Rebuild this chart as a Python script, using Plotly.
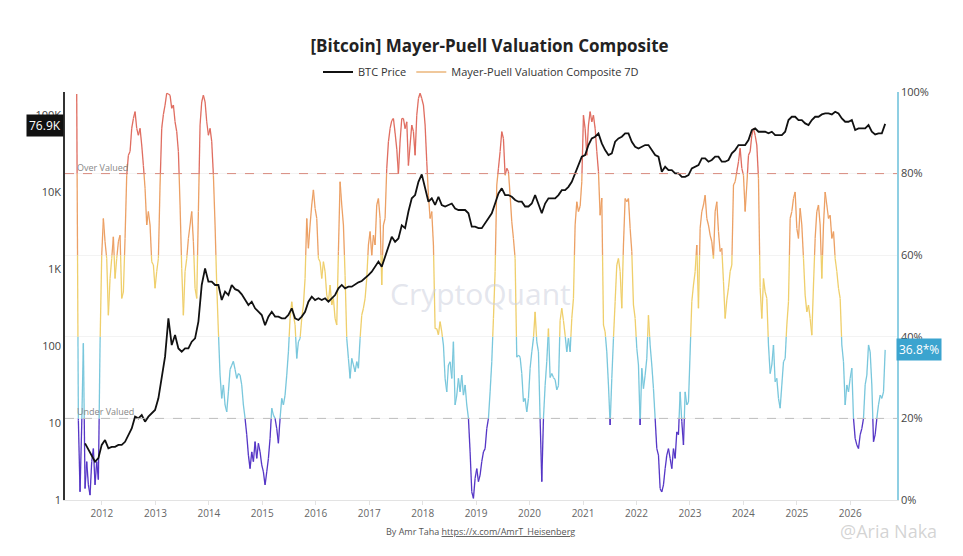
import numpy as np
import pandas as pd
import plotly.graph_objects as go

# ---------------- data ----------------
COMP_START = "2011-07-13"      # first composite sample
COMP_STEP_DAYS = 11.39         # sampling interval of composite readings
BTC_START = "2011-09-08"       # first BTC price sample
BTC_STEP_DAYS = 22.78          # sampling interval of BTC readings

composite_pct = [
    99.5, 19.5, 2.0, 18.4, 38.4, 2.8, 9.4, 3.7, 1.2, 9.4,
    12.6, 3.7, 9.4, 5.0, 38.0, 60.0, 69.0, 63.3, 59.2, 45.3,
    54.3, 59.2, 64.5, 54.3, 59.2, 63.3, 64.9, 49.4, 51.0, 64.1,
    79.6, 84.5, 85.4, 91.1, 93.5, 95.2, 91.1, 89.4, 91.1, 87.0,
    82.0, 76.4, 67.4, 70.7, 67.4, 58.4, 57.6, 51.9, 56.0, 59.2,
    77.2, 91.1, 94.5, 96.8, 99.7, 99.5, 99.2, 96.0, 96.8, 92.7,
    90.3, 85.4, 72.3, 56.8, 45.3, 56.0, 59.2, 64.1, 67.4, 70.7,
    63.3, 51.9, 49.4, 70.7, 91.9, 97.6, 99.2, 97.6, 92.7, 89.4,
    91.1, 87.8, 79.6, 67.4, 52.7, 41.2, 30.6, 24.9, 28.2, 23.3,
    21.6, 26.5, 32.0, 33.0, 34.0, 32.0, 29.8, 31.0, 30.6, 28.2,
    23.3, 20.0, 16.0, 11.0, 7.7, 11.8, 9.4, 14.3, 10.2, 13.9,
    11.8, 8.6, 6.9, 3.7, 6.9, 10.2, 15.1, 22.5, 20.8, 20.0,
    17.5, 13.9, 20.0, 24.9, 23.3, 25.7, 30.6, 36.3, 44.5, 48.6,
    45.3, 42.9, 34.7, 38.8, 39.6, 44.5, 47.8, 54.3, 69.0, 61.7,
    67.4, 72.3, 76.0, 71.5, 69.0, 59.2, 58.4, 54.3, 58.4, 56.0,
    50.2, 48.6, 52.7, 47.8, 49.4, 44.5, 42.9, 60.9, 78.0, 72.3,
    67.4, 55.1, 39.6, 34.7, 29.8, 34.7, 33.1, 31.4, 33.9, 32.3,
    39.6, 45.3, 47.0, 49.4, 54.3, 62.5, 65.8, 60.0, 64.9, 62.5,
    72.3, 73.9, 69.0, 52.7, 67.4, 69.0, 81.3, 87.8, 91.1, 93.0,
    93.5, 90.0, 86.0, 80.0, 88.0, 93.5, 93.5, 91.0, 92.7, 82.0,
    87.0, 91.9, 90.3, 84.5, 94.3, 98.4, 99.7, 98.4, 96.8, 91.9,
    82.9, 74.7, 69.0, 70.7, 62.5, 42.0, 42.0, 40.5, 43.7, 41.2,
    38.0, 29.8, 26.5, 33.1, 33.9, 29.8, 38.8, 23.3, 25.7, 29.8,
    26.5, 30.6, 25.7, 28.2, 23.3, 20.0, 11.8, 2.0, 0.4, 5.3,
    7.7, 4.5, 6.1, 9.4, 11.8, 12.6, 17.5, 20.0, 26.5, 33.9,
    44.5, 56.0, 77.2, 81.3, 85.4, 90.3, 88.6, 79.6, 81.3, 80.5,
    74.7, 68.2, 64.1, 59.2, 35.0, 35.5, 35.0, 31.0, 24.1, 24.9,
    21.6, 24.9, 32.3, 36.3, 39.6, 46.1, 38.8, 36.3, 20.0, 4.5,
    20.0, 28.0, 34.0, 42.0, 30.0, 31.0, 30.0, 29.5, 27.0, 28.0,
    44.0, 47.0, 44.0, 40.4, 36.3, 39.6, 36.3, 44.5, 49.4, 67.4,
    73.1, 70.7, 72.0, 78.0, 94.3, 91.1, 84.5, 91.9, 95.2, 92.7,
    94.3, 91.1, 85.4, 80.5, 69.8, 74.0, 42.9, 41.2, 36.3, 28.2,
    18.4, 29.8, 39.6, 48.6, 57.6, 59.2, 56.0, 47.0, 62.5, 73.9,
    73.1, 73.9, 66.6, 60.9, 47.8, 44.5, 37.2, 33.1, 18.4, 32.3,
    27.3, 30.6, 34.7, 45.3, 38.0, 33.1, 27.3, 20.0, 12.6, 11.0,
    2.8, 2.0, 3.7, 7.7, 11.0, 12.6, 10.2, 7.7, 12.6, 10.2,
    16.7, 16.0, 26.5, 19.2, 13.5, 26.5, 23.3, 24.0, 36.3, 48.6,
    52.7, 56.0, 62.5, 47.0, 66.6, 70.7, 72.3, 74.7, 69.0, 67.4,
    64.9, 63.3, 59.2, 70.7, 73.1, 65.8, 60.9, 61.7, 53.5, 44.5,
    49.0, 52.0, 56.0, 57.6, 77.2, 78.0, 80.5, 82.9, 86.2, 81.3,
    79.6, 70.7, 77.2, 84.5, 85.4, 89.4, 91.1, 89.4, 87.0, 78.8,
    52.0, 44.5, 54.3, 51.0, 49.4, 38.0, 31.0, 33.1, 38.0, 29.0,
    29.8, 24.9, 22.5, 28.2, 33.9, 34.7, 42.9, 48.6, 69.0, 70.7,
    73.9, 75.5, 66.6, 64.1, 71.5, 67.4, 59.2, 50.2, 46.1, 47.8,
    44.5, 40.4, 52.7, 64.1, 70.7, 72.3, 67.4, 54.3, 67.4, 75.5,
    72.3, 69.0, 69.8, 64.1, 65.8, 59.2, 56.0, 51.9, 49.4, 38.0,
    33.9, 23.3, 28.2, 26.5, 29.8, 32.3, 20.0, 15.1, 13.5, 12.6,
    16.0, 17.5, 20.0, 28.2, 30.6, 38.0, 36.3, 28.2, 14.3, 16.0,
    20.0, 23.3, 25.7, 24.9, 26.5, 36.8,
]

btc_price = [
    5.45, 4.5, 3.85, 3.15, 3.5, 5.2, 6.0, 4.7, 4.9, 4.9,
    5.2, 5.2, 5.7, 7.0, 8.5, 12.1, 11.5, 12.7, 10.4, 12.1,
    13.4, 14.8, 20.9, 38, 72.8, 229, 103, 139, 93, 84.5,
    93, 93, 114, 126, 207, 621, 1020, 686, 686, 621,
    621, 396, 508, 460, 621, 548, 525, 470, 408, 341,
    377, 309, 279, 253, 186, 241, 279, 241, 241, 229,
    229, 253, 309, 229, 218, 241, 279, 377, 438, 396,
    417, 396, 417, 377, 417, 460, 561, 621, 561, 590,
    590, 633, 672, 700, 757, 836, 925, 1070, 1250, 1070,
    1450, 1860, 2630, 2260, 2500, 3700, 3400, 5600, 8300, 9150,
    13600, 17000, 11200, 7500, 8300, 6800, 8700, 6800, 6500, 6800,
    7100, 6100, 5850, 5850, 5850, 5300, 3550, 3550, 3400, 3400,
    3900, 4550, 5300, 7100, 9600, 11200, 9150, 9150, 8700, 7900,
    7500, 7500, 6500, 6500, 7100, 9150, 7100, 5300, 7100, 8300,
    8300, 8300, 9150, 10600, 10600, 11700, 13600, 17500, 22400, 28800,
    30300, 40800, 49800, 52400, 57900, 42900, 35100, 30300, 31800, 45100,
    49800, 52400, 57900, 57900, 45100, 38800, 36900, 38800, 40800, 40800,
    35100, 30300, 28800, 18400, 21400, 19300, 19300, 17500, 17500, 15800,
    15800, 16600, 20300, 21400, 22400, 27400, 27400, 24800, 26100, 28800,
    28800, 24800, 24800, 26100, 31800, 35100, 40800, 40800, 40800, 47400,
    63900, 67200, 60800, 60800, 60800, 57900, 60800, 55000, 55000, 55000,
    60800, 86200, 95200, 95200, 86200, 86200, 78000, 74200, 86200, 95200,
    95200, 102000, 105000, 105000, 102000, 110700, 105000, 90600, 82000, 82000,
    86200, 63900, 67200, 67200, 67200, 74200, 60800, 56100, 57900, 57900,
    76900,
]

band_edges = [20, 40, 60, 80]
band_colors = ["#5536c6", "#79c7dc", "#efcf6b", "#eca064", "#e06d60"]
year_ticks = list(range(2012, 2027))
price_ticks = [1, 10, 100, 1000, 10000, 100000]
price_tick_text = ["1", "10", "100", "1K", "10K", "100K"]
pct_ticks = [0, 20, 40, 60, 80, 100]
over_valued, under_valued = 80, 20
last_price_label = "76.9K"
last_pct_label = "36.8*%"

# ---------------- derived sample dates ----------------
comp_dates = pd.Timestamp(COMP_START) + pd.to_timedelta(
    np.arange(len(composite_pct)) * COMP_STEP_DAYS, unit="D")
btc_dates = pd.Timestamp(BTC_START) + pd.to_timedelta(
    np.arange(len(btc_price)) * BTC_STEP_DAYS, unit="D")


def band_of(v):
    for i, e in enumerate(band_edges):
        if v < e:
            return i
    return len(band_edges)


# split the composite line where it crosses a band edge so each piece gets its colour
bands_xy = {i: ([], []) for i in range(len(band_colors))}
for k in range(len(composite_pct) - 1):
    t0, t1 = comp_dates[k], comp_dates[k + 1]
    v0, v1 = composite_pct[k], composite_pct[k + 1]
    cuts = [0.0]
    lo, hi = min(v0, v1), max(v0, v1)
    for e in band_edges:
        if lo < e < hi:
            cuts.append((e - v0) / (v1 - v0))
    cuts.append(1.0)
    cuts.sort()
    for a, b in zip(cuts[:-1], cuts[1:]):
        va, vb = v0 + a * (v1 - v0), v0 + b * (v1 - v0)
        band = band_of((va + vb) / 2)
        xs, ys = bands_xy[band]
        xs += [t0 + (t1 - t0) * a, t0 + (t1 - t0) * b, None]
        ys += [va, vb, None]

fig = go.Figure()

# legend entries
fig.add_trace(go.Scatter(x=[None], y=[None], mode="lines", name="BTC Price",
                         line=dict(color="#111111", width=2), yaxis="y2"))
fig.add_trace(go.Scatter(x=[None], y=[None], mode="lines",
                         name="Mayer-Puell Valuation Composite 7D",
                         line=dict(color="#f0c89c", width=2)))

for i, col in enumerate(band_colors):
    xs, ys = bands_xy[i]
    fig.add_trace(go.Scatter(x=xs, y=ys, mode="lines", showlegend=False,
                             line=dict(color=col, width=1.3), hoverinfo="skip",
                             connectgaps=False))

fig.add_trace(go.Scatter(x=btc_dates, y=btc_price, mode="lines", showlegend=False,
                         line=dict(color="#111111", width=1.8), yaxis="y2"))

# page has an 8px body margin: plot area spans x 65..897, y 92..500 on screen
L, T, R, B = 57, 84, 74, 64
fig.update_layout(
    width=963, height=556,
    paper_bgcolor="white", plot_bgcolor="white",
    margin=dict(l=L, r=R, t=T, b=B),
    font=dict(family="Open Sans", color="#333333"),
    title=dict(text="<b>[Bitcoin] Mayer-Puell Valuation Composite</b>",
               x=0.5, xanchor="center", y=1 - 38 / 556, yanchor="middle",
               font=dict(size=17, color="#222222")),
    legend=dict(orientation="h", x=0.5, xanchor="center", y=(500 - 72) / 408,
                yanchor="middle", font=dict(size=11, color="#333333"), itemwidth=30,
                bgcolor="rgba(0,0,0,0)"),
    xaxis=dict(type="date", range=["2011-04-24", "2026-11-16"],
               tickvals=[f"{y}-01-01" for y in year_ticks], tickformat="%Y",
               showgrid=False, showline=True, linecolor="#e3e3e3", linewidth=1,
               ticks="outside", ticklen=4, tickcolor="#e3e3e3",
               tickfont=dict(size=10, color="#666666"), zeroline=False),
    yaxis=dict(range=[0, 100], side="right", tickvals=pct_ticks,
               ticktext=[f"{p}%" for p in pct_ticks],
               showgrid=True, gridcolor="#f3f3f3", zeroline=False,
               showline=True, linecolor="#8fcfe3", linewidth=1.5,
               tickfont=dict(size=11, color="#444444"), ticks=""),
    yaxis2=dict(type="log", range=[0, 5.3], overlaying="y", side="left",
                tickvals=price_ticks, ticktext=price_tick_text,
                showgrid=False, zeroline=False,
                showline=True, linecolor="#333333", linewidth=1.5,
                tickfont=dict(size=11, color="#444444"), ticks=""),
    showlegend=True,
)

# valuation threshold lines
fig.add_shape(type="line", xref="paper", x0=0, x1=1, yref="y", y0=over_valued, y1=over_valued,
              line=dict(color="#d88a7e", width=1, dash="dash"))
fig.add_shape(type="line", xref="paper", x0=0, x1=1, yref="y", y0=under_valued, y1=under_valued,
              line=dict(color="#bdbdbd", width=1, dash="dash"))
fig.add_annotation(text="Over Valued", xref="paper", x=0.012, yref="y", y=over_valued,
                   xanchor="left", yanchor="bottom", showarrow=False,
                   font=dict(size=9, color="#888888"), yshift=-2)
fig.add_annotation(text="Under Valued", xref="paper", x=0.012, yref="y", y=under_valued,
                   xanchor="left", yanchor="bottom", showarrow=False,
                   font=dict(size=9, color="#888888"), yshift=-2)

# watermark
fig.add_annotation(text="CryptoQuant", xref="paper", yref="paper", x=0.499, y=0.507,
                   xanchor="center", yanchor="middle",
                   showarrow=False, font=dict(size=30, color="rgba(205,208,222,0.55)"))

# value badges
fig.add_annotation(text=last_price_label, xref="paper", yref="paper",
                   x=(45 - 65) / 832, y=(500 - 125) / 408, showarrow=False,
                   xanchor="center", yanchor="middle",
                   bgcolor="#111111", font=dict(size=12, color="white"), borderpad=2)
fig.add_annotation(text=last_pct_label, xref="paper", yref="y",
                   x=(919 - 65) / 832, y=float(composite_pct[-1]), showarrow=False,
                   xanchor="center", yanchor="middle",
                   bgcolor="#3ba4cf", font=dict(size=12, color="white"), borderpad=2)

# footer
fig.add_annotation(text="By Amr Taha <u>https://x.com/AmrT_Heisenberg</u>",
                   xref="paper", yref="paper", x=(480 - 65) / 832, y=(500 - 531) / 408,
                   xanchor="center", yanchor="middle",
                   showarrow=False, font=dict(size=9, color="#555555"))
fig.add_annotation(text="@Aria Naka", xref="paper", yref="paper",
                   x=(888 - 65) / 832, y=(500 - 531) / 408, showarrow=False,
                   xanchor="center", yanchor="middle",
                   font=dict(size=18, color="rgba(175,175,175,0.55)"))

fig.write_html("out.html")
